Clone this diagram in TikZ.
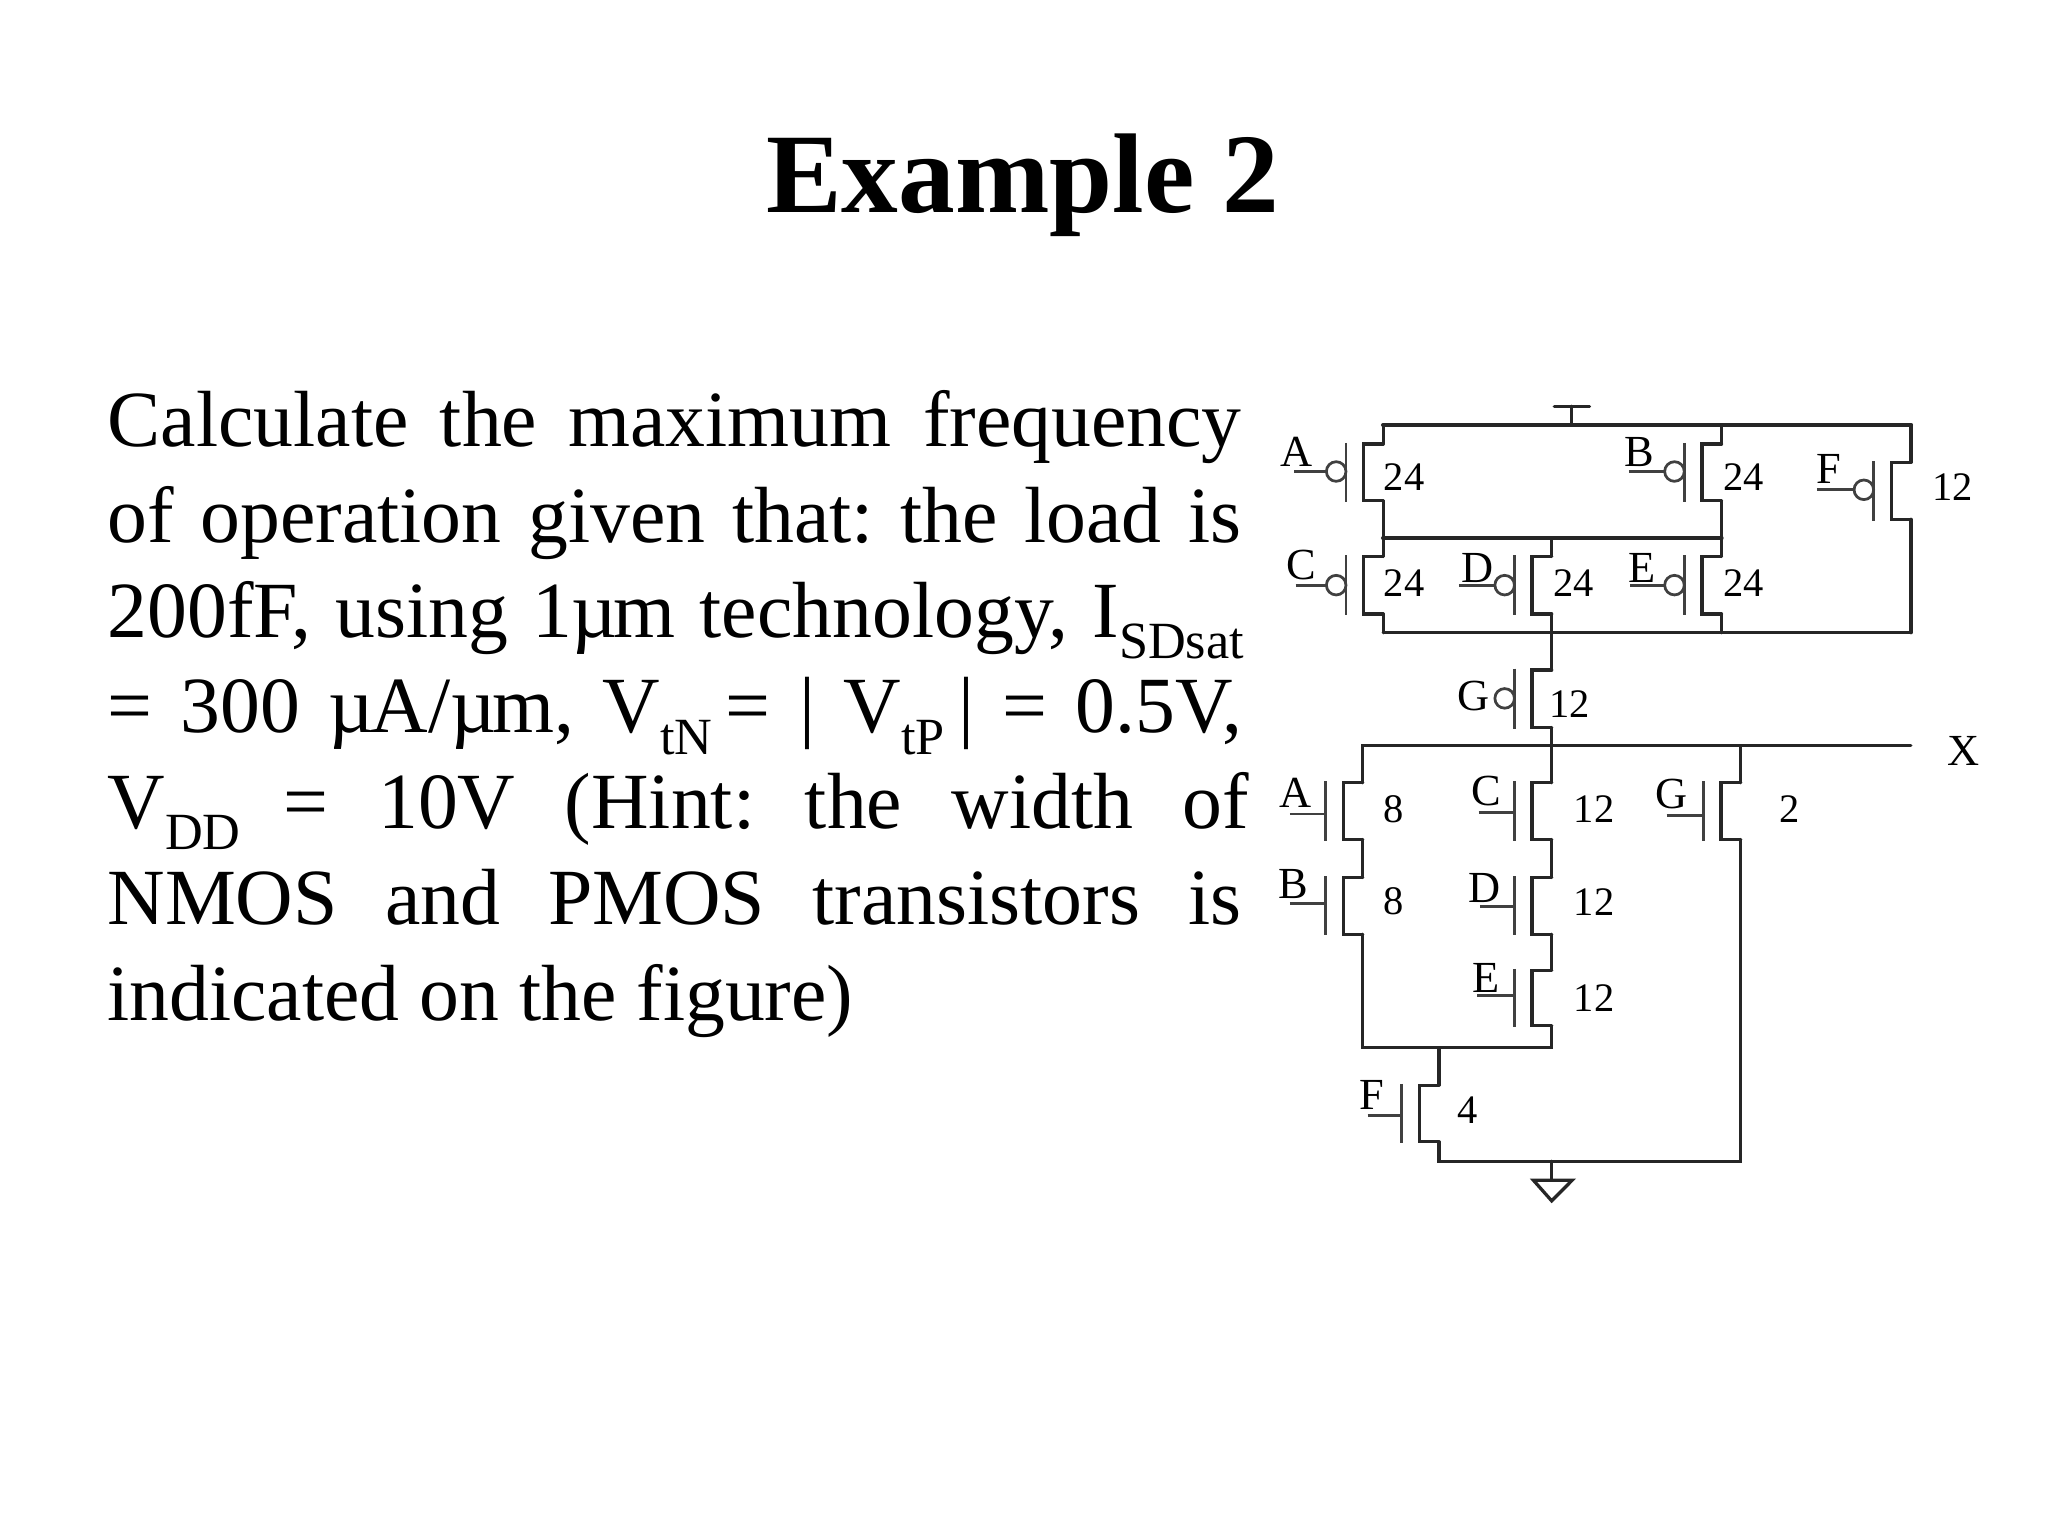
\documentclass[tikz,border=0pt]{standalone}
\usepackage{fontspec}
\setmainfont{Liberation Serif}
\frenchspacing
\newcommand{\subs}[1]{\raisebox{-0.27em}{\fontsize{20}{24}\selectfont #1}}
\newcommand{\mumark}{µ\kern-1.5pt}
\newcommand{\mosgeom}[3]{% rail x, top y, bottom y
  \draw[wire] (#1,#2) -- ({#1-15},#2) -- ({#1-15},#3) -- (#1,#3);
  \draw[gatebar] ({#1-28.5},{#2-1}) -- ({#1-28.5},{#3+1});
}
\newcommand{\nfet}[5]{% rail x, top, bottom, input start x, input y
  \mosgeom{#1}{#2}{#3}
  \draw[gatebar] (#4,#5) -- ({#1-28.5},#5);
}
\newcommand{\pfet}[5]{%
  \mosgeom{#1}{#2}{#3}
  \draw[gatebar] ({#1-36},#5) circle[radius=7.5];
  \draw[gatebar] (#4,#5) -- ({#1-43},#5);
}
\tikzset{
  wire/.style={line width=1.25pt,draw=black!85,line cap=round,line join=miter},
  railbar/.style={line width=1.7pt,draw=black!85,line cap=round},
  gatebar/.style={line width=1.05pt,draw=black!75},
  body/.style={anchor=base west,inner sep=0pt,font=\fontsize{30.5}{36}\selectfont},
  cirtext/.style={inner sep=0pt,font=\fontsize{15.5}{18}\selectfont},
  cirletter/.style={inner sep=0pt,font=\fontsize{17}{20}\selectfont},
  heading/.style={inner sep=0pt,font=\fontsize{43.4}{52}\selectfont\bfseries},
}
\begin{document}
\begin{tikzpicture}[x=0.5pt,y=-0.5pt]
\useasboundingbox (0,0) rectangle (1568,1176);
\fill[white] (0,0) rectangle (1568,1176);
\node[heading,anchor=base] (title) at (783,163) {Example 2};
\node[body] (l1) at (82,342) {\makebox[434pt][s]{Calculate the maximum frequency}};
\node[body] (l2) at (82,415) {\makebox[434pt][s]{of operation given that: the load is}};
\node[body] (l3) at (82,488) {\makebox[435pt][s]{200fF, using 1\mumark m technology, I\subs{SDsat}}};
\node[body] (l4) at (82,561) {\makebox[434.5pt][s]{= 300 \mumark A/\mumark m, V\subs{tN}\,= | V\subs{tP}\,| = 0.5V,}};
\node[body] (l5) at (82,634) {\makebox[437pt][s]{V\subs{DD}\hspace{16.5pt}= 10V (Hint: the width of}};
\node[body] (l6) at (82,708) {\makebox[434pt][s]{NMOS and PMOS transistors is}};
\node[body] (l7) at (82,781) {indicated on the figure)};

% PMOS network
\draw[railbar] (1059,325.4) -- (1463,325.4);
\draw[wire] (1203,325.4) -- (1203,311);
\draw[wire] (1190,311) -- (1217,311);
\draw[railbar] (1059,412) -- (1318,412);
\draw[wire] (1059,484.4) -- (1463,484.4);
\draw[wire] (1059,325.4) -- (1059,340) (1059,383.3) -- (1059,426) (1059,470) -- (1059,484.4);
\draw[wire] (1318,325.4) -- (1318,340) (1318,383.3) -- (1318,426) (1318,470) -- (1318,484.4);
\draw[wire] (1463,325.4) -- (1463,354) (1463,397.6) -- (1463,484.4);
\draw[wire] (1188,412) -- (1188,426) (1188,470) -- (1188,513) (1188,557) -- (1188,599.3);
\pfet{1059}{340}{383.3}{991}{361}
\pfet{1318}{340}{383.3}{1247}{361}
\pfet{1463}{354}{397.6}{1391}{375}
\pfet{1059}{426}{470}{992}{448}
\pfet{1188}{426}{470}{1117}{448}
\pfet{1318}{426}{470}{1248}{448}
\pfet{1188}{513}{557}{1145}{534.7}

% output line
\draw[wire] (1043.4,599.3) -- (1043.4,571) -- (1463,571);

% NMOS network
\nfet{1043.4}{599.3}{642.7}{987.5}{623.3}
\nfet{1043.4}{671.8}{715.2}{987.5}{692}
\nfet{1188}{599.3}{642.7}{1132}{622.3}
\nfet{1188}{671.8}{715.2}{1133}{694}
\nfet{1188}{742.8}{785.4}{1131}{762.4}
\nfet{1332.7}{599.3}{642.7}{1276}{624.3}
\nfet{1101.7}{830.8}{874.2}{1047}{853.8}
\draw[wire] (1043.4,642.7) -- (1043.4,671.8) (1043.4,715.2) -- (1043.4,802.2) -- (1188,802.2) -- (1188,785.4);
\draw[wire] (1188,642.7) -- (1188,671.8) (1188,715.2) -- (1188,742.8);
\draw[wire] (1332.7,571) -- (1332.7,599.3) (1332.7,642.7) -- (1332.7,889) -- (1101.7,889) -- (1101.7,874.2);
\draw[wire] (1101.7,802.2) -- (1101.7,830.8);
\draw[wire] (1188,889) -- (1188,903.6);
\draw[wire] (1174,903.6) -- (1203.7,903.6) -- (1188,919.4) -- cycle;

% labels
\node[cirletter] (pA) at (993,346) {A};
\node[cirletter] (pB) at (1255,345.8) {B};
\node[cirletter] (pF) at (1400,359.3) {F};
\node[cirletter] (pC) at (996,432.6) {C};
\node[cirletter] (pD) at (1131,434.6) {D};
\node[cirletter] (pE) at (1257,434.6) {E};
\node[cirletter] (pG) at (1128,533) {G};
\node[cirtext] (wA) at (1075,365.5) {24};
\node[cirtext] (wB) at (1335,365.5) {24};
\node[cirtext] (wF) at (1495,373) {12};
\node[cirtext] (wC) at (1075,446.6) {24};
\node[cirtext] (wD) at (1205,446.6) {24};
\node[cirtext] (wE) at (1335,446.6) {24};
\node[cirtext] (wG) at (1202,539) {12};
\node[cirletter] (out) at (1503,575) {X};
\node[cirletter] (nA) at (992,607) {A};
\node[cirletter] (nB) at (990,677) {B};
\node[cirletter] (nC) at (1138,606) {C};
\node[cirletter] (nD) at (1136.5,679.5) {D};
\node[cirletter] (nE) at (1137.5,748.6) {E};
\node[cirletter] (nG) at (1280,608) {G};
\node[cirletter] (nF) at (1050.5,838.5) {F};
\node[cirtext] (vA) at (1067,619.5) {8};
\node[cirtext] (vB) at (1067,690) {8};
\node[cirtext] (vC) at (1220.5,619.7) {12};
\node[cirtext] (vD) at (1220.5,691) {12};
\node[cirtext] (vE) at (1220.5,764) {12};
\node[cirtext] (vG) at (1370.5,619.7) {2};
\node[cirtext] (vF) at (1123.5,850) {4};
\end{tikzpicture}
\end{document}
